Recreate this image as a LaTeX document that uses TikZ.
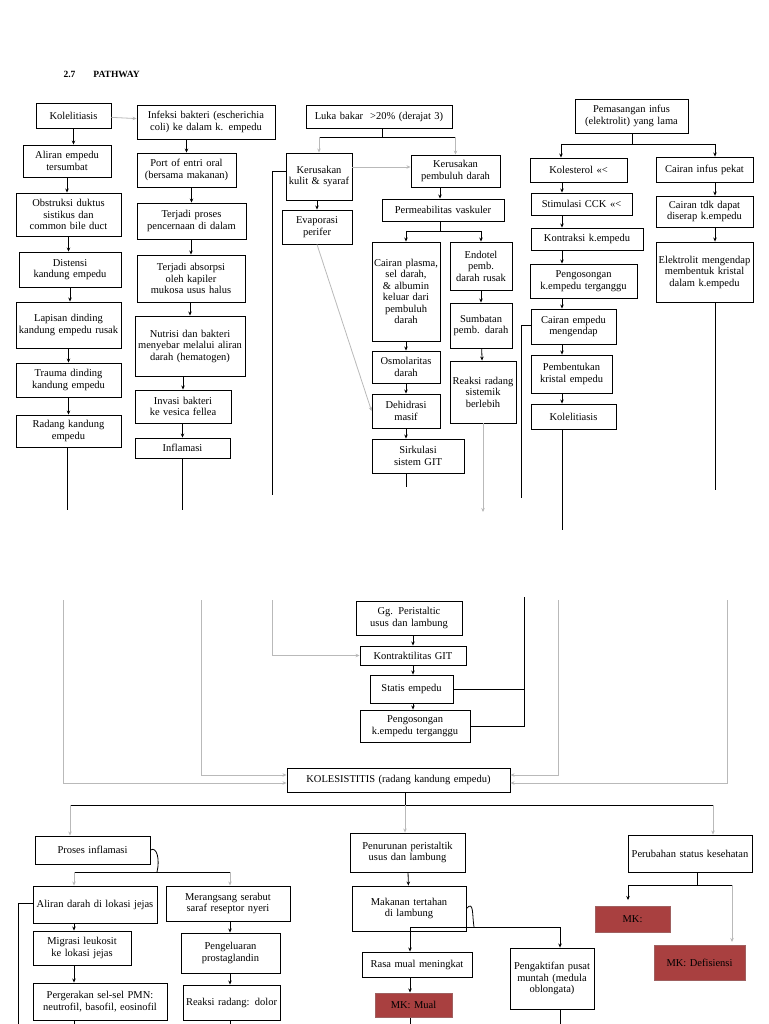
\documentclass[tikz,border=0pt]{standalone}
\usepackage{fontspec}
\setmainfont{Liberation Serif}
\usetikzlibrary{arrows.meta, positioning}
\hyphenpenalty=10000
\exhyphenpenalty=10000

% box from corner coordinates (pixels)
\newcommand\bx[7][]{%
  \pgfmathsetmacro\bw{#5-#3}\pgfmathsetmacro\bh{#6-#4}\pgfmathsetmacro\tw{#5-#3-4}%
  \node[box,minimum width=\bw pt,minimum height=\bh pt,text width=\tw pt,#1] (#2)
    at ({(#3+#5)/2},{(#4+#6)/2}) {#7};}

\tikzset{
  box/.style={draw, line width=0.9pt, inner sep=0pt, align=center,
    font=\fontsize{10.5}{11.5}\selectfont},
  mk/.style={fill=red!55!black!75!white, draw=red!25!gray, line width=1pt},
  arr/.style={-{Stealth[length=4pt,width=3.5pt]}, line width=0.8pt},
  garr/.style={arr, draw=gray!55},
  ln/.style={line width=0.8pt}
}

\begin{document}
\hyphenpenalty=10000
\begin{tikzpicture}[x=1pt,y=-1pt]
  \useasboundingbox (0,0) rectangle (768,1024);
  \node[anchor=west,font=\fontsize{9.5}{10}\selectfont\bfseries] (ttl) at (60,74) {2.7\hspace{18pt}PATHWAY};

  % column 1
  \bx{k1}{36}{103}{111}{128}{Kolelitiasis}
  \bx{a1}{23}{145}{111}{177}{Aliran empedu tersumbat}
  \bx{a2}{16}{193}{121}{236}{Obstruksi duktus sistikus dan common bile duct}
  \bx{a3}{19}{252}{121}{287}{Distensi kandung empedu}
  \bx{a4}{16}{302}{121}{348}{Lapisan dinding kandung empedu rusak}
  \bx{a5}{16}{363}{121}{397}{Trauma dinding kandung empedu}
  \bx{a6}{16}{415}{121}{447}{Radang kandung empedu}

  % column 2
  \bx{b1}{137}{105}{275}{139}{Infeksi bakteri (escherichia coli) ke dalam k. empedu}
  \bx{b2}{137}{153}{236}{187}{Port of entri oral (bersama makanan)}
  \bx{b3}{137}{203}{246}{239}{Terjadi proses pencernaan di dalam}
  \bx{b4}{137}{255}{245}{302}{Terjadi absorpsi oleh kapiler mukosa usus halus}
  \bx{b5}{135}{316}{245}{376}{Nutrisi dan bakteri menyebar melalui aliran darah (hematogen)}
  \bx{b6}{135}{390}{231}{423}{Invasi bakteri ke vesica fellea}
  \bx{b7}{135}{438}{230}{458}{Inflamasi}

  % column 3
  \bx{lb}{306}{105}{452}{128}{Luka bakar \ >20\% (derajat 3)}
  \bx{c1}{286}{153}{352}{200}{Kerusakan kulit \& syaraf}
  \bx{c2}{411}{155}{500}{187}{Kerusakan pembuluh darah}
  \bx{c3}{282}{210}{352}{244}{Evaporasi perifer}
  \bx{pv}{382}{199}{504}{221}{Permeabilitas vaskuler}
  \bx{cp}{372}{242}{440}{341}{Cairan plasma, sel darah, \& albumin keluar dari pembuluh darah}
  \bx{en}{450}{242}{512}{290}{Endotel pemb. darah rusak}
  \bx{sb}{450}{303}{512}{348}{Sumbatan pemb. darah}
  \bx{rr}{450}{361}{516}{423}{Reaksi radang sistemik berlebih}
  \bx{os}{372}{351}{440}{383}{Osmolaritas darah}
  \bx{dh}{372}{394}{440}{428}{Dehidrasi masif}
  \bx{sk}{372}{439}{464}{473}{Sirkulasi sistem GIT}

  % column 4 and 5
  \bx{pi}{575}{99}{688}{133}{Pemasangan infus (elektrolit) yang lama}
  \bx{d1}{530}{158}{627}{182}{Kolesterol \textless\textless\textless}
  \bx{d2}{531}{193}{632}{215}{Stimulasi CCK \textless\textless\textless}
  \bx{d3}{531}{228}{643}{250}{Kontraksi k.empedu}
  \bx{d4}{530}{264}{637}{298}{Pengosongan k.empedu terganggu}
  \bx{d5}{531}{309}{616}{344}{Cairan empedu mengendap}
  \bx{d6}{531}{355}{612}{393}{Pembentukan kristal empedu}
  \bx{d7}{531}{404}{616}{429}{Kolelitiasis}
  \bx{e1}{656}{157}{753}{182}{Cairan infus pekat}
  \bx{e2}{656}{196}{753}{227}{Cairan tdk dapat diserap k.empedu}
  \bx{e3}{656}{242}{753}{302}{Elektrolit mengendap membentuk kristal dalam k.empedu}

  % middle part
  \bx{gg}{356}{601}{462}{635}{Gg. Peristaltic usus dan lambung}
  \bx{kg}{360}{646}{466}{665}{Kontraktilitas GIT}
  \bx{se}{370}{675}{453}{703}{Statis empedu}
  \bx{pk}{360}{710}{470}{742}{Pengosongan k.empedu terganggu}
  \bx{ks}{287}{768}{510}{792}{KOLESISTITIS (radang kandung empedu)}

  % lower part
  \bx{pr}{35}{836}{150}{864}{Proses inflamasi}
  \bx{pp}{350}{833}{465}{872}{Penurunan peristaltik usus dan lambung}
  \bx{ps}{628}{835}{752}{872}{Perubahan status kesehatan}
  \bx{f1}{33}{886}{157}{923}{Aliran darah di lokasi jejas}
  \bx{g1}{166}{886}{290}{921}{Merangsang serabut saraf reseptor nyeri}
  \bx{f2}{33}{931}{131}{965}{Migrasi leukosit ke lokasi jejas}
  \bx{g2}{181}{933}{280}{973}{Pengeluaran prostaglandin}
  \bx{f3}{33}{983}{167}{1020}{Pergerakan sel-sel PMN: neutrofil, basofil, eosinofil}
  \bx{g3}{183}{985}{280}{1020}{Reaksi radang: dolor}
  \bx{mt}{352}{886}{466}{931}{Makanan tertahan di lambung}
  \bx{rm}{362}{952}{472}{977}{Rasa mual meningkat}
  \bx[mk]{mm}{375}{993}{452}{1017}{MK: Mual}
  \bx{pm}{510}{948}{594}{1009}{Pengaktifan pusat muntah (medula oblongata)}
  \bx[mk]{m1}{595}{906}{670}{932}{MK:}
  \bx[mk]{m2}{654}{945}{745}{980}{MK: Defisiensi}

  % column 1 arrows
  \foreach \u/\v in {k1/a1, a1/a2, a2/a3, a3/a4, a4/a5, a5/a6}
    \draw[arr] (\u.south) -- (\u.south |- \v.north);
  \draw[garr] (k1) -- (b1);
  \foreach \u/\v in {b1/b2, b2/b3, b3/b4, b4/b5, b5/b6, b6/b7}
    \draw[arr] (\u.south -| \v) -- (\v.north);

  % luka bakar branch
  \coordinate (lj) at (382,137);
  \draw[ln] (lj |- lb.south) -- (lj);
  \draw[ln] (lj -| c1) -- (lj -| c2);
  \draw[garr] (lj -| c1) -- (c1.north);
  \draw[garr] (lj -| c2) -- (c2.north);
  \draw[garr] (c1.east |- 0,167) -- (c2.west |- 0,167);
  \draw[arr] (c1.south -| c3) -- (c3.north);
  \draw[arr] (c2.south -| 440,0) -- (pv.north -| 440,0);
  \coordinate (pj) at (440,231);
  \draw[ln] (pv.south -| pj) -- (pj);
  \draw[ln] (pj -| cp) -- (pj -| en);
  \draw[arr] (pj -| cp) -- (cp.north);
  \draw[arr] (pj -| en) -- (en.north);
  \draw[arr] (en) -- (sb);
  \draw[arr] (sb) -- (rr);
  \draw[arr] (cp) -- (os);
  \draw[arr] (os) -- (dh);
  \draw[arr] (dh.south) -- (dh.south |- sk.north);
  \coordinate (sk1) at (406,487);
  \draw[ln] (sk.south -| sk1) -- (sk1);
  \draw[garr] (c3.south) -- (dh.west);
  \coordinate (rr1) at (483,512);
  \draw[garr] (rr.south -| rr1) -- (rr1);

  % infus branch
  \coordinate (ij) at (632,144);
  \draw[ln] (pi.south -| ij) -- (ij);
  \draw[ln] (ij -| 561,0) -- (ij -| 715,0);
  \draw[arr] (ij -| 561,0) -- (d1.north -| 561,0);
  \draw[arr] (ij -| 715,0) -- (e1.north -| 715,0);
  \foreach \u/\v in {d1/d2, d2/d3, d3/d4, d4/d5, d5/d6, d6/d7}
    \draw[arr] (\u.south -| 562,0) -- (\v.north -| 562,0);
  \foreach \u/\v in {e1/e2, e2/e3}
    \draw[arr] (\u.south -| 715,0) -- (\v.north -| 715,0);

  % long lines, upper half
  \coordinate (u1) at (67,510);
  \coordinate (u2) at (182,510);
  \coordinate (u3) at (272,495);
  \coordinate (u4) at (521,498);
  \coordinate (u5) at (562,530);
  \coordinate (u6) at (715,490);
  \draw[ln] (a6.south -| u1) -- (u1);
  \draw[ln] (b7.south -| u2) -- (u2);
  \draw[ln] (c1.west |- 0,171) -| (u3);
  \draw[ln] (d5.west |- 0,325) -| (u4);
  \draw[ln] (d7.south -| u5) -- (u5);
  \draw[ln] (e3.south -| u6) -- (u6);

  % long lines, lower half
  \coordinate (v1) at (63,600);
  \coordinate (v2) at (201,600);
  \coordinate (v3) at (272,600);
  \coordinate (v4) at (524,597);
  \coordinate (v5) at (558,600);
  \coordinate (v6) at (727,600);
  \draw[garr] (v1) |- (ks.west |- 0,783);
  \draw[garr] (v2) |- (ks.west |- 0,775);
  \draw[garr] (v3) |- (kg.west);
  \draw[ln] (v4) |- (pk.east);
  \draw[ln] (se.east) -- (se.east -| v4);
  \draw[garr] (v5) |- (ks.east |- 0,775);
  \draw[garr] (v6) |- (ks.east |- 0,783);
  \draw[arr] (gg.south -| 413,0) -- (kg.north -| 413,0);
  \draw[arr] (kg.south -| 413,0) -- (se.north -| 413,0);
  \draw[arr] (se.south -| 413,0) -- (pk.north -| 413,0);

  % kolesistitis branch
  \coordinate (kj) at (405,805);
  \draw[ln] (ks.south -| kj) -- (kj);
  \draw[ln] (70,805) -- (713,805);
  \draw[garr] (70,805) -- (pr.north -| 70,0);
  \draw[garr] (kj) -- (pp.north -| kj);
  \draw[garr] (713,805) -- (ps.north -| 713,0);

  % proses inflamasi branch
  \coordinate (pj2) at (157,872);
  \draw[ln] (pr.east) .. controls (157,846) and (160,860) .. (pj2);
  \draw[ln] (74,872) -- (230,872);
  \draw[garr] (74,872) -- (f1.north -| 74,0);
  \draw[garr] (230,872) -- (g1.north -| 230,0);
  \draw[arr] (f1.south -| 74,0) -- (f2.north -| 74,0);
  \draw[arr] (f2.south -| 74,0) -- (f3.north -| 74,0);
  \draw[arr] (g1.south -| 230,0) -- (g2.north -| 230,0);
  \draw[arr] (g2.south -| 230,0) -- (g3.north -| 230,0);
  \coordinate (w1) at (18,1024);
  \draw[ln] (f1.west |- 0,903) -- (18,903) -- (w1);
  \coordinate (w2) at (74,1024);
  \draw[ln] (f3.south -| w2) -- (w2);
  \coordinate (w3) at (230,1024);
  \draw[ln] (g3.south -| w3) -- (w3);

  % penurunan peristaltik branch
  \draw[arr] (pp) -- (mt);
  \coordinate (mj) at (474,927);
  \draw[ln] (mt.east) .. controls (474,900) and (472,915) .. (mj);
  \draw[ln] (410,927) -- (560,927);
  \draw[arr] (410,927) -- (rm.north -| 410,0);
  \draw[arr] (560,927) -- (pm.north -| 560,0);
  \draw[arr] (rm.south -| 410,0) -- (mm.north -| 410,0);
  \coordinate (w4) at (410,1024);
  \draw[ln] (mm.south -| w4) -- (w4);
  \coordinate (w5) at (560,1024);
  \draw[ln] (pm.south -| w5) -- (w5);

  % perubahan status branch
  \coordinate (sj) at (697,885);
  \draw[ln] (ps.south -| sj) -- (sj);
  \draw[ln] (628,885) -- (732,885);
  \draw[arr] (628,885) -- (628,900);
  \draw[garr] (732,885) -- (732,942);
\end{tikzpicture}
\end{document}
